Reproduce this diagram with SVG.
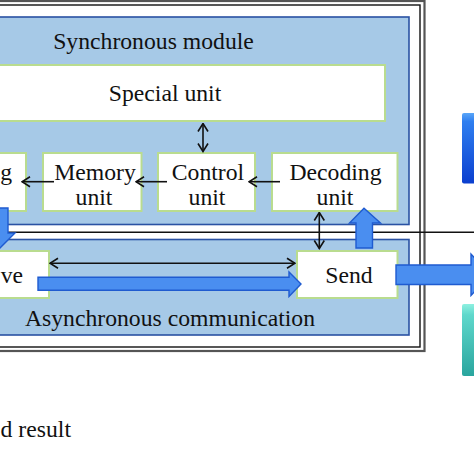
<svg xmlns="http://www.w3.org/2000/svg" width="474" height="474" viewBox="0 0 474 474">
<style>
  .t { font-family: "Liberation Serif", "Times New Roman", serif; font-size: 23.7px; fill: #111111; text-anchor: middle; }
  .mod { fill: #a6c9e7; stroke: #2a52a3; stroke-width: 1.6; }
  .unit { fill: #ffffff; stroke: #b9dc8f; stroke-width: 2; }
  .ln { stroke: #111; stroke-width: 1.6; fill: none; }
  .blue { fill: #4a8ef0; stroke: #1f5bd0; stroke-width: 1.4; }
</style>
<defs>
  <marker id="ah" viewBox="0 0 10 12" refX="9" refY="6" markerWidth="10" markerHeight="12" markerUnits="userSpaceOnUse" orient="auto-start-reverse">
    <path d="M1,1 L9,6 L1,11" fill="none" stroke="#111" stroke-width="1.6"/>
  </marker>
  <linearGradient id="gBlue" x1="0" y1="0" x2="0" y2="1">
    <stop offset="0" stop-color="#5aa6f8"/>
    <stop offset="0.12" stop-color="#2f7ff0"/>
    <stop offset="1" stop-color="#0b3fcf"/>
  </linearGradient>
  <linearGradient id="gTeal" x1="0" y1="0" x2="0" y2="1">
    <stop offset="0" stop-color="#8ef0e0"/>
    <stop offset="0.15" stop-color="#5fd8cc"/>
    <stop offset="1" stop-color="#2aa59e"/>
  </linearGradient>
</defs>

<rect width="474" height="474" fill="#ffffff"/>

<!-- outer double frame -->
<g id="frame">
  <rect x="-20" y="1" width="444.5" height="350" fill="none" stroke="#555" stroke-width="2.2"/>
  <rect x="-20" y="5" width="440" height="342" fill="none" stroke="#111" stroke-width="1.4"/>
</g>

<g id="sync-module">
  <rect class="mod" x="-20" y="17" width="429" height="207.5"/>
  <text class="t" x="153.5" y="48.5">Synchronous module</text>
</g>

<g id="special-unit">
  <rect class="unit" x="-20" y="65" width="405" height="56"/>
  <text class="t" x="165" y="100.5">Special unit</text>
</g>

<g id="display-unit">
  <rect class="unit" x="-20" y="153" width="46" height="58"/>
  <text class="t" x="12" y="179.5" style="text-anchor:end">g</text>
</g>

<g id="memory-unit">
  <rect class="unit" x="43" y="153" width="98.5" height="58"/>
  <text class="t" x="95" y="179.5">Memory</text>
  <text class="t" x="94" y="204.5">unit</text>
</g>

<g id="control-unit">
  <rect class="unit" x="158" y="153" width="97" height="58"/>
  <text class="t" x="208" y="179.5">Control</text>
  <text class="t" x="207" y="204.5">unit</text>
</g>

<g id="decoding-unit">
  <rect class="unit" x="272" y="153" width="125.5" height="58"/>
  <text class="t" x="335.5" y="179.5">Decoding</text>
  <text class="t" x="335" y="204.5">unit</text>
</g>

<g id="async-module">
  <rect class="mod" x="-20" y="239.5" width="429" height="95.5"/>
  <text class="t" x="170" y="325.5">Asynchronous communication</text>
</g>

<g id="receive">
  <rect class="unit" x="-20" y="251" width="69" height="47"/>
  <text class="t" x="23" y="283" style="text-anchor:end">ve</text>
</g>

<g id="send">
  <rect class="unit" x="297" y="251" width="100.5" height="47"/>
  <text class="t" x="349" y="283">Send</text>
</g>

<g id="output-blue">
  <rect x="462" y="113" width="30" height="70.5" rx="2" fill="url(#gBlue)"/>
</g>

<g id="output-teal">
  <rect x="462" y="304" width="30" height="72" rx="2" fill="url(#gTeal)"/>
</g>

<g id="result">
  <text class="t" x="71" y="437" style="text-anchor:end">d result</text>
</g>

<g id="connectors">
  <!-- long horizontal line -->
  <line class="ln" x1="0" y1="232.3" x2="474" y2="232.3" stroke-width="1.5"/>
  <!-- special <-> control -->
  <line class="ln" x1="203" y1="123.5" x2="203" y2="151.5" marker-start="url(#ah)" marker-end="url(#ah)"/>
  <!-- control -> memory -->
  <line class="ln" x1="167" y1="181.7" x2="136" y2="181.7" marker-end="url(#ah)"/>
  <!-- memory -> display -->
  <line class="ln" x1="54" y1="181.7" x2="22" y2="181.7" marker-end="url(#ah)"/>
  <!-- decoding -> control -->
  <line class="ln" x1="280" y1="181.7" x2="249" y2="181.7" marker-end="url(#ah)"/>
  <!-- decoding <-> send -->
  <line class="ln" x1="319.3" y1="212.5" x2="319.3" y2="248.5" marker-start="url(#ah)" marker-end="url(#ah)"/>
  <!-- receive <-> send -->
  <line class="ln" x1="50" y1="263.3" x2="295" y2="263.3" marker-start="url(#ah)" marker-end="url(#ah)"/>
  <!-- blue: receive -> send -->
  <polygon class="blue" points="38,277.3 289,277.3 289,272 301,284 289,296.5 289,290.3 38,290.3"/>
  <!-- blue: send -> decoding (up) -->
  <polygon class="blue" points="356,248 356,223 349.5,223 364,208.3 380.5,223 372.5,223 372.5,248"/>
  <!-- blue: display -> down -->
  <polygon class="blue" points="-8,208 8,208 8,233 15,233 0,248 -15,233 -8,233"/>
  <!-- blue: send -> right -->
  <polygon class="blue" points="396,265 471,265 471,254 490,274.7 471,295.5 471,284.5 396,284.5"/>
</g>
</svg>
